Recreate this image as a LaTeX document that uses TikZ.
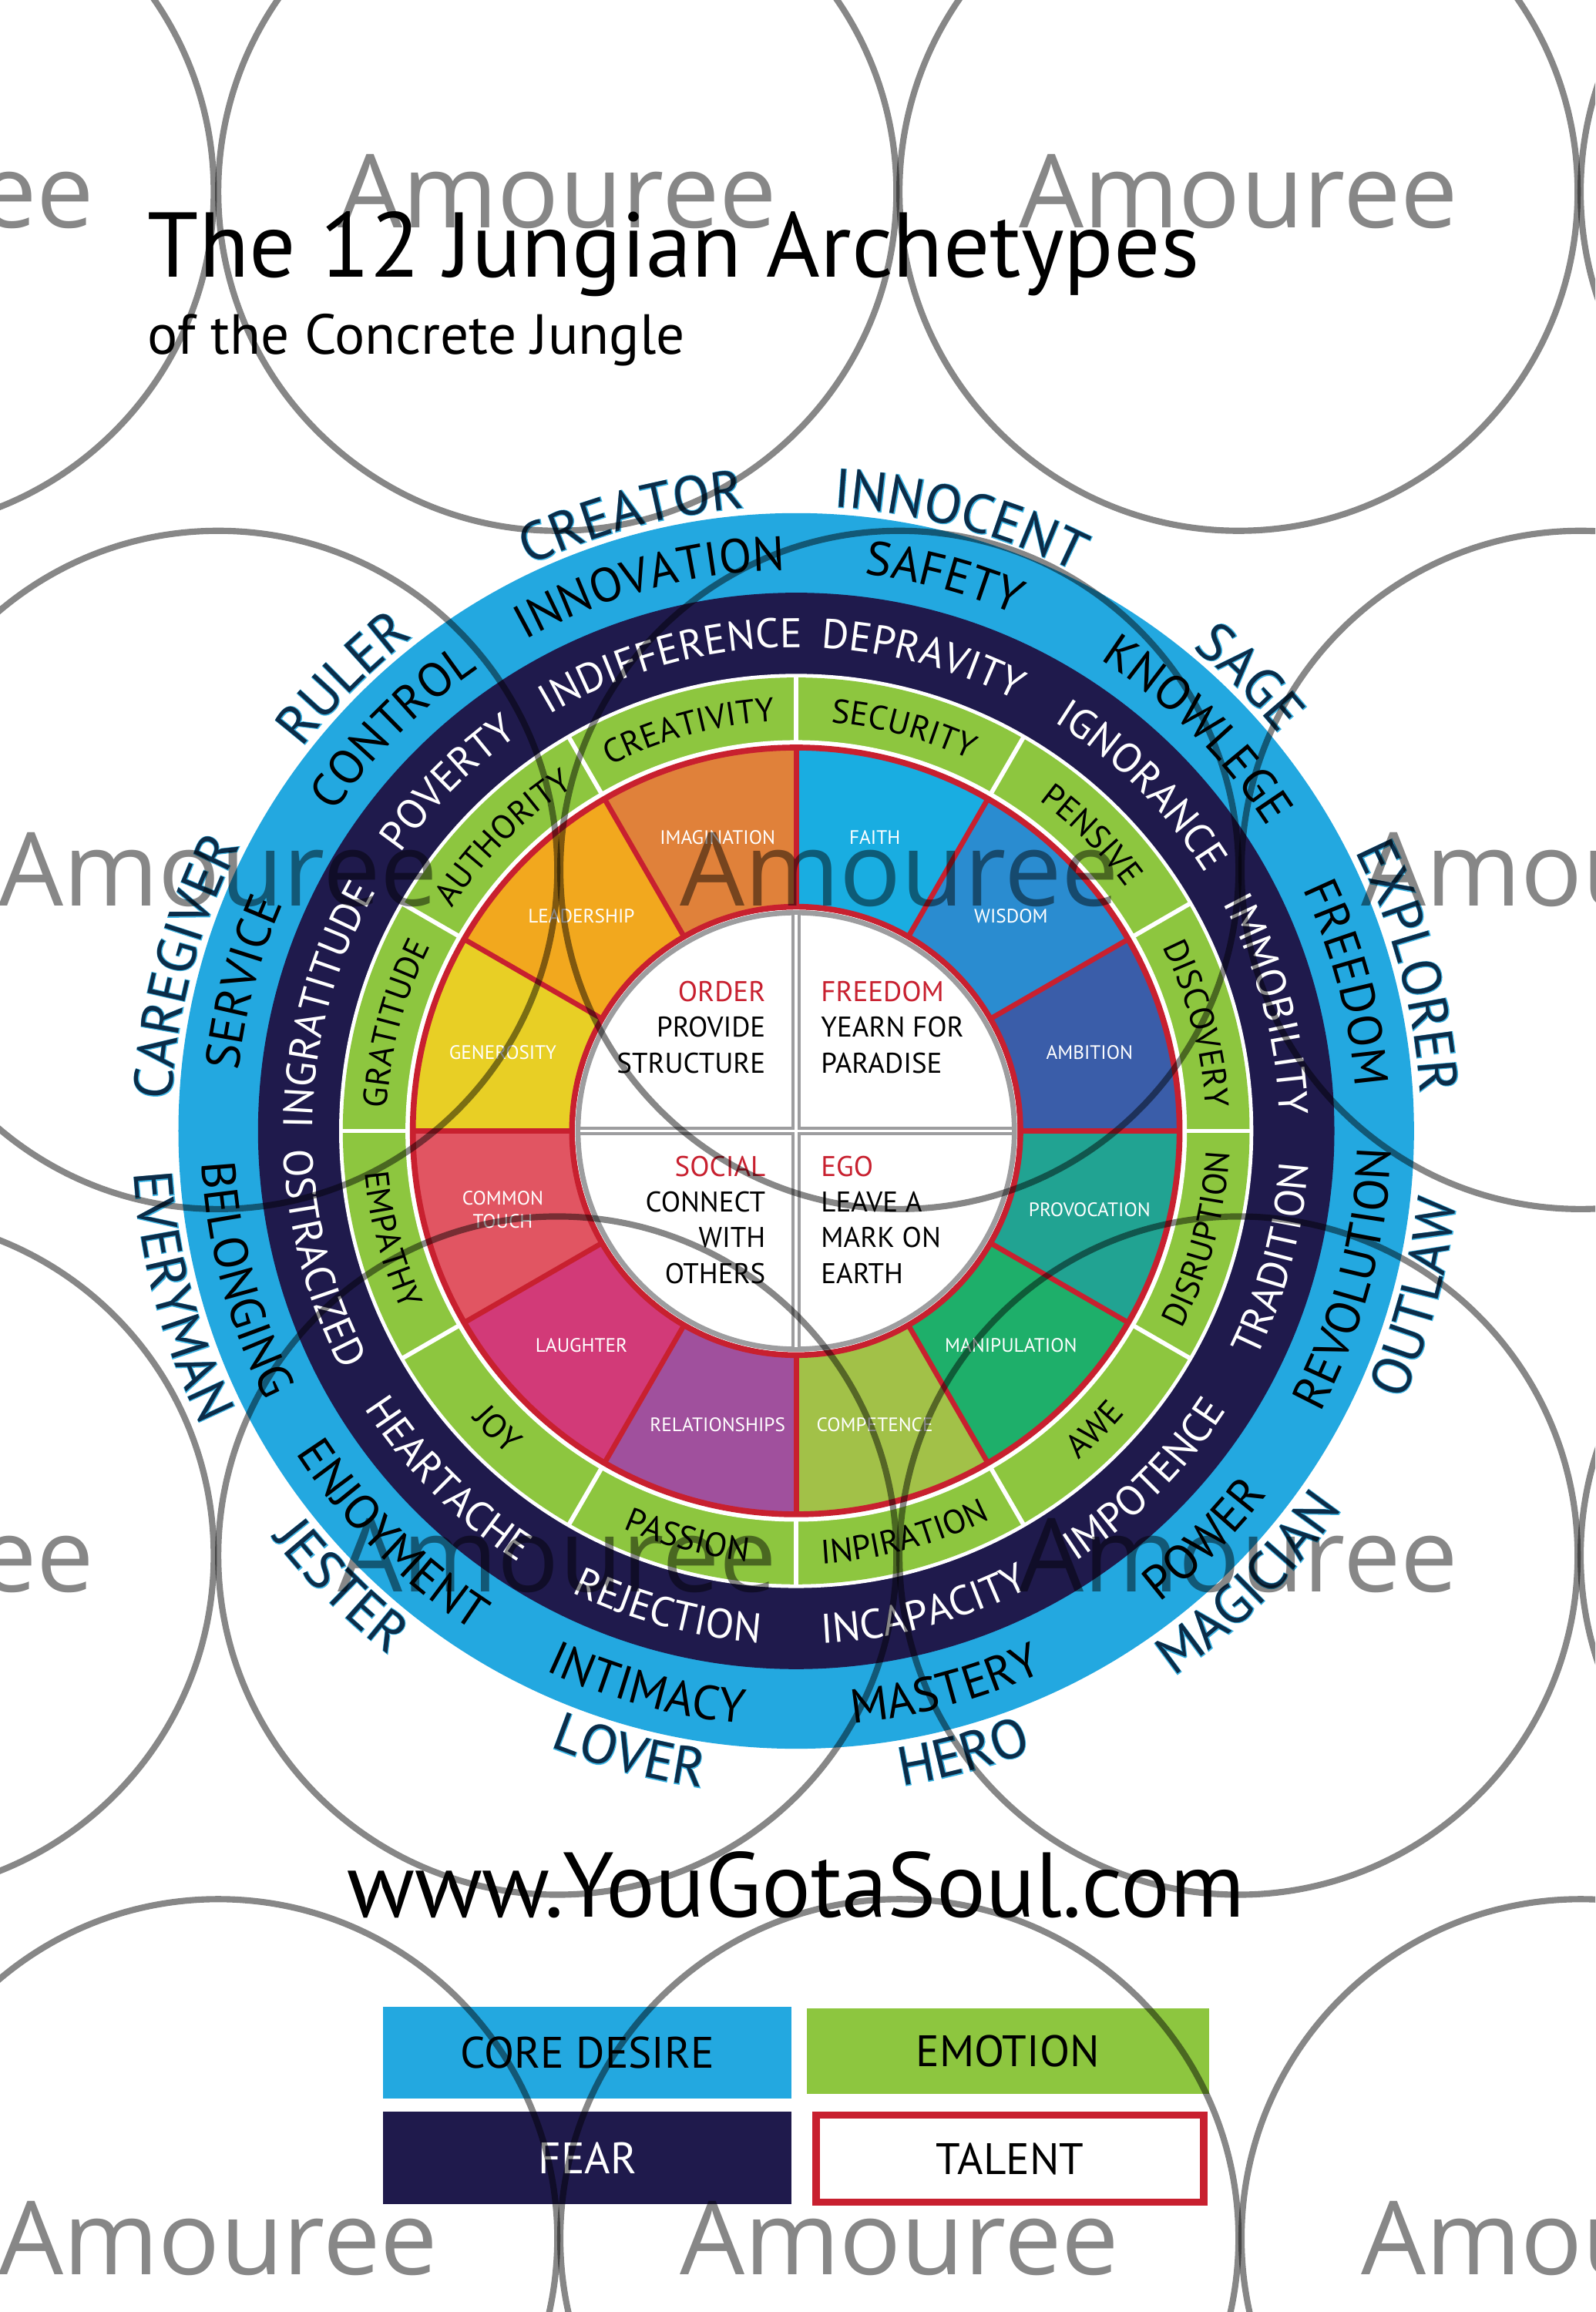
\documentclass[tikz,border=0pt]{standalone}
\usepackage{fontspec}
\setmainfont{PT Sans}
\newfontfamily\glowfamily{PT Sans}[FakeBold=2.5]
\newfontfamily\wmfamily{Open Sans}
\usetikzlibrary{decorations.text}

\definecolor{desireblue}{HTML}{23A8E0}
\definecolor{fearnavy}{HTML}{1F1A4C}
\definecolor{emotiongreen}{HTML}{8DC63F}
\definecolor{talentred}{HTML}{C8202F}
\definecolor{hubgrey}{HTML}{9D9D9F}
\definecolor{archink}{HTML}{0C2C48}
\definecolor{archglow}{HTML}{3CB6E6}
\definecolor{creator}{HTML}{E0813A}
\definecolor{ruler}{HTML}{F2A81E}
\definecolor{caregiver}{HTML}{E8CF25}
\definecolor{everyman}{HTML}{E15562}
\definecolor{jester}{HTML}{D23A78}
\definecolor{lover}{HTML}{A0509D}
\definecolor{hero}{HTML}{A2C148}
\definecolor{magician}{HTML}{1EAF6A}
\definecolor{outlaw}{HTML}{21A392}
\definecolor{explorer}{HTML}{3A5DA9}
\definecolor{sage}{HTML}{2A8CD0}
\definecolor{innocent}{HTML}{19ADE1}

\newcommand{\archfmt}{\fontsize{21}{25}\selectfont\color{archink}}
\newcommand{\glowfmt}{\glowfamily\fontsize{21}{25}\selectfont\color{archglow}}
\newcommand{\desirefmt}{\fontsize{18.5}{22}\selectfont\color{black}}
\newcommand{\fearfmt}{\fontsize{16}{19}\selectfont\color{white}}
\newcommand{\emotionfmt}{\fontsize{13}{16}\selectfont\color{black}}

\newcommand{\ringword}[5]{%
  \pgfmathsetmacro\rwlo{#2-40}\pgfmathsetmacro\rwhi{#2+40}%
  \ifdim #2pt<180pt
    \path[decorate,decoration={text along path,text align=center,text={|#5|#1}}]
      (\rwhi:#3) arc[start angle=\rwhi,end angle=\rwlo,radius=#3];
  \else
    \path[decorate,decoration={text along path,text align=center,text={|#5|#1}}]
      (\rwlo:#4) arc[start angle=\rwlo,end angle=\rwhi,radius=#4];
  \fi}

\begin{document}
\begin{tikzpicture}[
talentword/.style={text=white,font=\fontsize{7.5}{9}\selectfont,align=center,inner sep=0pt},
hubtext/.style={font=\fontsize{11}{13.8}\selectfont,inner sep=0pt},
legendbox/.style={minimum width=5.54cm,minimum height=1.24cm,inner sep=0pt,font=\fontsize{17}{20}\selectfont},
wmring/.style={draw=black,draw opacity=0.47,line width=0.085cm},
wmword/.style={text=black,text opacity=0.47,font=\wmfamily\fontsize{39.5}{45}\selectfont,inner sep=0pt}]

\useasboundingbox (-10.8,-16.02) rectangle (10.84,15.34);
\fill[white] (-10.8,-16.02) rectangle (10.84,15.34);

\fill[desireblue] (0,0) circle[radius=8.38];
\fill[fearnavy] (0,0) circle[radius=7.3];
\fill[white] (0,0) circle[radius=6.2];
\fill[emotiongreen] (0,0) circle[radius=6.15];
\fill[white] (0,0) circle[radius=5.3];

\foreach \ang/\col in {90/creator,120/ruler,150/caregiver,180/everyman,210/jester,240/lover,270/hero,300/magician,330/outlaw,0/explorer,30/sage,60/innocent}{
  \fill[\col] (\ang:3.04) arc[start angle=\ang,delta angle=30,radius=3.04] -- ({\ang+30}:5.2) arc[start angle=\ang+30,delta angle=-30,radius=5.2] -- cycle;
}
\foreach \ang in {0,30,...,330}{
  \draw[white,line width=0.06cm] (\ang:5.27) -- (\ang:6.17);
  \draw[talentred,line width=0.07cm] (\ang:3.04) -- (\ang:5.2);
}
\draw[talentred,line width=0.08cm] (0,0) circle[radius=5.2] (0,0) circle[radius=3.04];
\fill[white] (0,0) circle[radius=3.0];
\draw[hubgrey,line width=0.07cm] (0,0) circle[radius=2.96];
\draw[hubgrey,line width=0.12cm] (-2.96,0) -- (2.96,0) (0,-2.96) -- (0,2.96);
\draw[white,line width=0.035cm] (-2.93,0) -- (2.93,0) (0,-2.93) -- (0,2.93);

\foreach \ang/\w in {105/CREATOR,135/RULER,165/CAREGIVER,195/EVERYMAN,225/JESTER,255/LOVER,285/HERO,315/MAGICIAN,345/OUTLAW,15/EXPLORER,45/SAGE,75/INNOCENT}{
  \expandafter\ringword\expandafter{\w}{\ang}{8.48}{9.0}{\glowfmt}
  \expandafter\ringword\expandafter{\w}{\ang}{8.48}{9.0}{\archfmt}
}
\foreach \ang/\w in {105/INNOVATION,135/CONTROL,165/SERVICE,195/BELONGING,225/ENJOYMENT,255/INTIMACY,285/MASTERY,315/POWER,345/REVOLUTION,15/FREEDOM,45/KNOWLEGE,75/SAFETY}{
  \expandafter\ringword\expandafter{\w}{\ang}{7.61}{8.07}{\desirefmt}
}
\foreach \ang/\w in {105/INDIFFERENCE,135/POVERTY,165/INGRATITUDE,195/OSTRACIZED,225/HEARTACHE,255/REJECTION,285/INCAPACITY,315/IMPOTENCE,345/TRADITION,15/IMMOBILITY,45/IGNORANCE,75/DEPRAVITY}{
  \expandafter\ringword\expandafter{\w}{\ang}{6.56}{6.96}{\fearfmt}
}
\foreach \ang/\w in {105/CREATIVITY,135/AUTHORITY,165/GRATITUDE,195/EMPATHY,225/JOY,255/PASSION,285/INPIRATION,315/AWE,345/DISRUPTION,15/DISCOVERY,45/PENSIVE,75/SECURITY}{
  \expandafter\ringword\expandafter{\w}{\ang}{5.56}{5.88}{\emotionfmt}
}

\foreach \ang/\w [count=\i] in {105/IMAGINATION,135/LEADERSHIP,165/GENEROSITY,195/{COMMON\\TOUCH},225/LAUGHTER,255/RELATIONSHIPS,285/COMPETENCE,315/MANIPULATION,345/PROVOCATION,15/AMBITION,45/WISDOM,75/FAITH}{
  \node[talentword] (talent\i) at (\ang:4.12) {\w};
}

\draw (-0.41,2.04) node[hubtext,anchor=north east,align=right] (order) {\textcolor{talentred}{ORDER}\\PROVIDE\\STRUCTURE};
\draw (0.33,2.04) node[hubtext,anchor=north west,align=left] (freedom) {\textcolor{talentred}{FREEDOM}\\YEARN FOR\\PARADISE};
\draw (-0.41,-0.33) node[hubtext,anchor=north east,align=right] (social) {\textcolor{talentred}{SOCIAL}\\CONNECT\\WITH\\OTHERS};
\draw (0.33,-0.33) node[hubtext,anchor=north west,align=left] (ego) {\textcolor{talentred}{EGO}\\LEAVE A\\MARK ON\\EARTH};

\draw (-8.8,11.58) node[anchor=base west,inner sep=0pt,font=\fontsize{35.5}{40}\selectfont] (title) {The 12 Jungian Archetypes};
\draw (-8.8,10.54) node[anchor=base west,inner sep=0pt,font=\fontsize{21.8}{25}\selectfont] (subtitle) {of the Concrete Jungle};
\draw (0,-10.66) node[anchor=base,inner sep=0pt,font=\fontsize{35.5}{40}\selectfont] (url) {www.YouGotaSoul.com};

\node[legendbox,fill=desireblue] (coredesire) at (-2.83,-12.5) {CORE DESIRE};
\node[legendbox,fill=emotiongreen,minimum width=5.46cm,minimum height=1.16cm] (emotion) at (2.87,-12.48) {EMOTION};
\node[legendbox,fill=fearnavy,text=white,minimum height=1.26cm] (fear) at (-2.83,-13.93) {FEAR};
\node[legendbox,draw=talentred,line width=0.1cm,fill=white,minimum width=5.26cm,minimum height=1.18cm] (talent) at (2.9,-13.94) {TALENT};

\begin{scope}
\clip (-10.8,-16.02) rectangle (10.84,15.34);
\foreach \x/\y [count=\i] in {-12.5/12.74,-3.24/12.74,6/12.74,15.24/12.74,-7.84/3.54,1.4/3.54,10.64/3.54,-12.5/-5.76,-3.24/-5.76,6/-5.76,15.24/-5.76,-7.84/-15.02,1.4/-15.02,10.64/-15.02}{
  \draw[wmring] (\x,\y) circle[radius=4.6];
  \node[wmword] (wm\i) at (\x,\y) {Amouree};
}
\end{scope}

\end{tikzpicture}
\end{document}
